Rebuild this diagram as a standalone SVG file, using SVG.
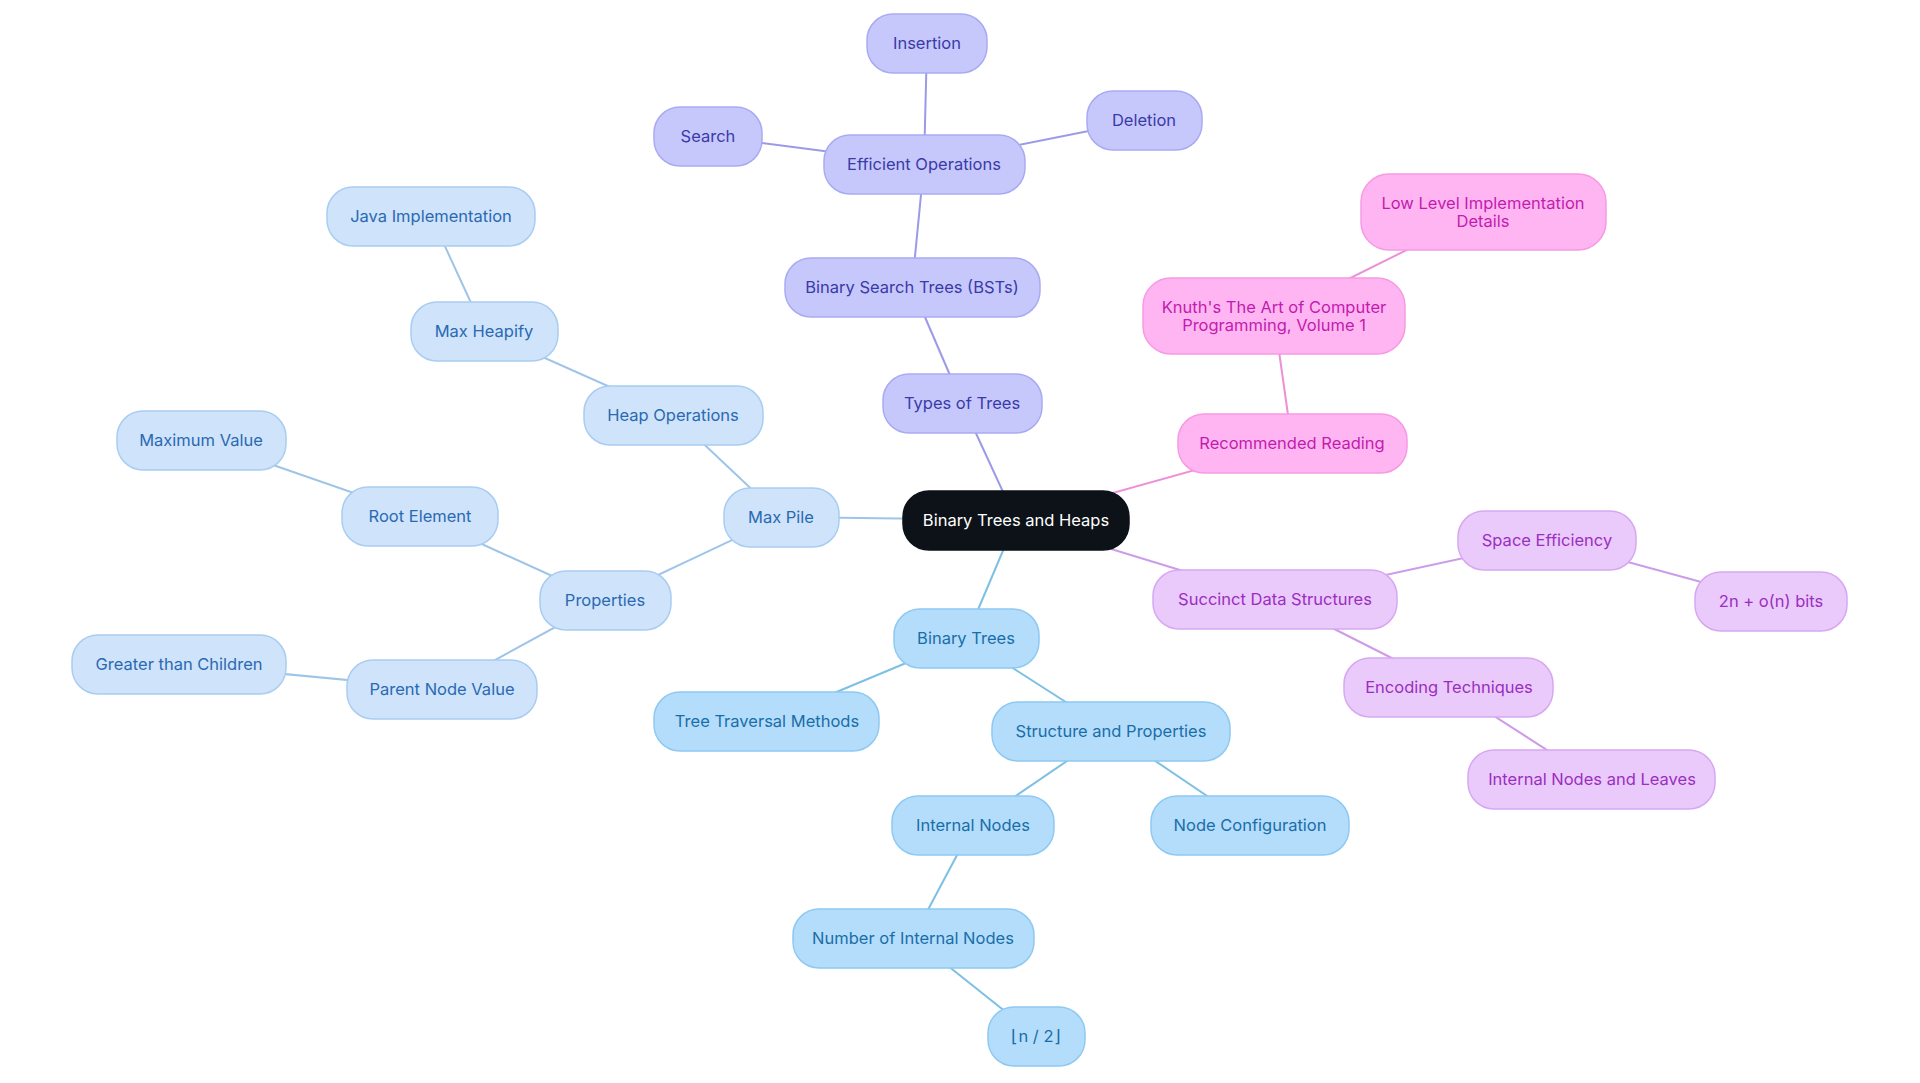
<svg xmlns="http://www.w3.org/2000/svg" width="1920" height="1083" viewBox="0 0 1920 1083">
<style>
text{font-family:Inter,"Liberation Sans",sans-serif;font-size:16.5px;text-anchor:middle;dominant-baseline:central}
rect{stroke-width:1.5}
.p rect{fill:#c6c8fb;stroke:#a9abf2}.p text{fill:#3a3aa8}
.k rect{fill:#ffb5f2;stroke:#f59ae3}.k text{fill:#c21cae}
.l rect{fill:#eac9fb;stroke:#d6a8f2}.l text{fill:#9a2fbf}
.b rect{fill:#b4ddfc;stroke:#8fc9f2}.b text{fill:#1a6ea8}
.m rect{fill:#cfe3fb;stroke:#a9cdf1}.m text{fill:#2a6ab2}
.r rect{fill:#0c1218;stroke:#0c1218}.r text{fill:#fff}
#edges line{stroke-width:2}
.ep{stroke:#9a9ae8}.ek{stroke:#ec90d8}.el{stroke:#cc9ce8}.eb{stroke:#7ec0e4}.em{stroke:#9ec4e8}
</style>
<rect width="1920" height="1083" fill="#fff"/>
<g id="edges">
<line class="ep" x1="1016" y1="520" x2="962" y2="403"/>
<line class="ep" x1="962" y1="403" x2="912" y2="287"/>
<line class="ep" x1="912" y1="287" x2="924" y2="164"/>
<line class="ep" x1="924" y1="164" x2="927" y2="43"/>
<line class="ep" x1="924" y1="164" x2="708" y2="136"/>
<line class="ep" x1="924" y1="164" x2="1144" y2="120"/>
<line class="ek" x1="1016" y1="520" x2="1292" y2="443"/>
<line class="ek" x1="1292" y1="443" x2="1274" y2="316"/>
<line class="ek" x1="1274" y1="316" x2="1483" y2="212"/>
<line class="el" x1="1016" y1="520" x2="1275" y2="599"/>
<line class="el" x1="1275" y1="599" x2="1547" y2="540"/>
<line class="el" x1="1547" y1="540" x2="1771" y2="601"/>
<line class="el" x1="1275" y1="599" x2="1449" y2="687"/>
<line class="el" x1="1449" y1="687" x2="1592" y2="779"/>
<line class="eb" x1="1016" y1="520" x2="966" y2="638"/>
<line class="eb" x1="966" y1="638" x2="767" y2="721"/>
<line class="eb" x1="966" y1="638" x2="1111" y2="731"/>
<line class="eb" x1="1111" y1="731" x2="973" y2="825"/>
<line class="eb" x1="1111" y1="731" x2="1250" y2="825"/>
<line class="eb" x1="973" y1="825" x2="913" y2="938"/>
<line class="eb" x1="913" y1="938" x2="1036" y2="1036"/>
<line class="em" x1="1016" y1="520" x2="781" y2="517"/>
<line class="em" x1="781" y1="517" x2="673" y2="415"/>
<line class="em" x1="673" y1="415" x2="484" y2="331"/>
<line class="em" x1="484" y1="331" x2="431" y2="216"/>
<line class="em" x1="781" y1="517" x2="605" y2="600"/>
<line class="em" x1="605" y1="600" x2="420" y2="516"/>
<line class="em" x1="420" y1="516" x2="201" y2="440"/>
<line class="em" x1="605" y1="600" x2="442" y2="689"/>
<line class="em" x1="442" y1="689" x2="179" y2="664"/>
</g>
<g id="root" class="r"><rect x="903" y="491" width="226" height="59" rx="26"/><text x="1016" y="520">Binary Trees and Heaps</text></g>
<g id="types" class="p"><rect x="883" y="374" width="159" height="59" rx="26"/><text x="962" y="403">Types of Trees</text></g>
<g id="bst" class="p"><rect x="785" y="258" width="255" height="59" rx="26"/><text x="912" y="287">Binary Search Trees (BSTs)</text></g>
<g id="effops" class="p"><rect x="824" y="135" width="201" height="59" rx="26"/><text x="924" y="164">Efficient Operations</text></g>
<g id="insertion" class="p"><rect x="867" y="14" width="120" height="59" rx="26"/><text x="927" y="43">Insertion</text></g>
<g id="search" class="p"><rect x="654" y="107" width="108" height="59" rx="26"/><text x="708" y="136">Search</text></g>
<g id="deletion" class="p"><rect x="1087" y="91" width="115" height="59" rx="26"/><text x="1144" y="120">Deletion</text></g>
<g id="reading" class="k"><rect x="1178" y="414" width="229" height="59" rx="26"/><text x="1292" y="443">Recommended Reading</text></g>
<g id="knuth" class="k"><rect x="1143" y="278" width="262" height="76" rx="28"/><text x="1274" y="307">Knuth's The Art of Computer</text><text x="1274" y="325">Programming, Volume 1</text></g>
<g id="lowlevel" class="k"><rect x="1361" y="174" width="245" height="76" rx="28"/><text x="1483" y="203">Low Level Implementation</text><text x="1483" y="221">Details</text></g>
<g id="succinct" class="l"><rect x="1153" y="570" width="244" height="59" rx="26"/><text x="1275" y="599">Succinct Data Structures</text></g>
<g id="space" class="l"><rect x="1458" y="511" width="178" height="59" rx="26"/><text x="1547" y="540">Space Efficiency</text></g>
<g id="bits" class="l"><rect x="1695" y="572" width="152" height="59" rx="26"/><text x="1771" y="601">2n + o(n) bits</text></g>
<g id="encoding" class="l"><rect x="1344" y="658" width="209" height="59" rx="26"/><text x="1449" y="687">Encoding Techniques</text></g>
<g id="inl" class="l"><rect x="1468" y="750" width="247" height="59" rx="26"/><text x="1592" y="779">Internal Nodes and Leaves</text></g>
<g id="bt" class="b"><rect x="894" y="609" width="145" height="59" rx="26"/><text x="966" y="638">Binary Trees</text></g>
<g id="traversal" class="b"><rect x="654" y="692" width="225" height="59" rx="26"/><text x="767" y="721">Tree Traversal Methods</text></g>
<g id="structure" class="b"><rect x="992" y="702" width="238" height="59" rx="26"/><text x="1111" y="731">Structure and Properties</text></g>
<g id="internal" class="b"><rect x="892" y="796" width="162" height="59" rx="26"/><text x="973" y="825">Internal Nodes</text></g>
<g id="nodeconf" class="b"><rect x="1151" y="796" width="198" height="59" rx="26"/><text x="1250" y="825">Node Configuration</text></g>
<g id="numint" class="b"><rect x="793" y="909" width="241" height="59" rx="26"/><text x="913" y="938">Number of Internal Nodes</text></g>
<g id="floor" class="b"><rect x="988" y="1007" width="97" height="59" rx="26"/><text x="1036" y="1036">⌊n / 2⌋</text></g>
<g id="maxpile" class="m"><rect x="724" y="488" width="115" height="59" rx="26"/><text x="781" y="517">Max Pile</text></g>
<g id="heapops" class="m"><rect x="584" y="386" width="179" height="59" rx="26"/><text x="673" y="415">Heap Operations</text></g>
<g id="heapify" class="m"><rect x="411" y="302" width="147" height="59" rx="26"/><text x="484" y="331">Max Heapify</text></g>
<g id="java" class="m"><rect x="327" y="187" width="208" height="59" rx="26"/><text x="431" y="216">Java Implementation</text></g>
<g id="props" class="m"><rect x="540" y="571" width="131" height="59" rx="26"/><text x="605" y="600">Properties</text></g>
<g id="rootel" class="m"><rect x="342" y="487" width="156" height="59" rx="26"/><text x="420" y="516">Root Element</text></g>
<g id="maxval" class="m"><rect x="117" y="411" width="169" height="59" rx="26"/><text x="201" y="440">Maximum Value</text></g>
<g id="parent" class="m"><rect x="347" y="660" width="190" height="59" rx="26"/><text x="442" y="689">Parent Node Value</text></g>
<g id="greater" class="m"><rect x="72" y="635" width="214" height="59" rx="26"/><text x="179" y="664">Greater than Children</text></g>
</svg>
